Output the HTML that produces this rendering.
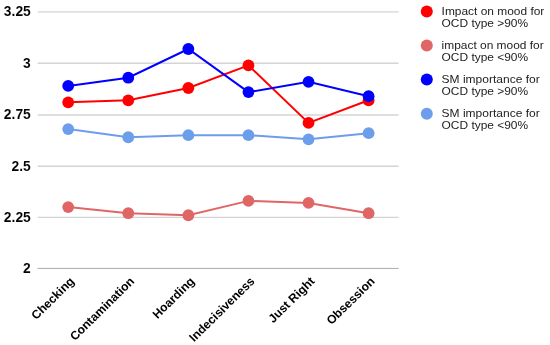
<!DOCTYPE html>
<html><head><meta charset="utf-8"><title>chart</title>
<style>html,body{margin:0;padding:0;background:#fff}svg{display:block}text{font-family:"Liberation Sans",Arial,sans-serif}</style></head><body>
<svg width="550" height="345" viewBox="0 0 550 345">
<rect width="550" height="345" fill="#fff"/>
<line x1="37.7" x2="398.6" y1="11.90" y2="11.90" stroke="#d4d4d4" stroke-width="1.4"/>
<line x1="37.7" x2="398.6" y1="63.20" y2="63.20" stroke="#d4d4d4" stroke-width="1.4"/>
<line x1="37.7" x2="398.6" y1="115.00" y2="115.00" stroke="#d4d4d4" stroke-width="1.4"/>
<line x1="37.7" x2="398.6" y1="166.20" y2="166.20" stroke="#d4d4d4" stroke-width="1.4"/>
<line x1="37.7" x2="398.6" y1="217.40" y2="217.40" stroke="#d4d4d4" stroke-width="1.4"/>
<line x1="37.5" x2="398.6" y1="268.40" y2="268.40" stroke="#aaaaaa" stroke-width="1"/>
<text transform="translate(30.8,16.10) scale(0.975,1)" text-anchor="end" font-size="14.2" font-weight="bold" fill="#000" stroke="#fff" stroke-width="0.08">3.25</text>
<text transform="translate(30.8,68.00) scale(0.975,1)" text-anchor="end" font-size="14.2" font-weight="bold" fill="#000" stroke="#fff" stroke-width="0.08">3</text>
<text transform="translate(30.8,118.60) scale(0.975,1)" text-anchor="end" font-size="14.2" font-weight="bold" fill="#000" stroke="#fff" stroke-width="0.08">2.75</text>
<text transform="translate(30.8,170.50) scale(0.975,1)" text-anchor="end" font-size="14.2" font-weight="bold" fill="#000" stroke="#fff" stroke-width="0.08">2.5</text>
<text transform="translate(30.8,221.75) scale(0.975,1)" text-anchor="end" font-size="14.2" font-weight="bold" fill="#000" stroke="#fff" stroke-width="0.08">2.25</text>
<text transform="translate(30.8,272.75) scale(0.975,1)" text-anchor="end" font-size="14.2" font-weight="bold" fill="#000" stroke="#fff" stroke-width="0.08">2</text>
<polyline points="68.20,102.36 128.28,100.30 188.36,87.99 248.44,65.40 308.52,122.89 368.60,100.30" fill="none" stroke="#ff0000" stroke-width="2"/>
<circle cx="68.20" cy="102.36" r="5.9" fill="#ff0000"/>
<circle cx="128.28" cy="100.30" r="5.9" fill="#ff0000"/>
<circle cx="188.36" cy="87.99" r="5.9" fill="#ff0000"/>
<circle cx="248.44" cy="65.40" r="5.9" fill="#ff0000"/>
<circle cx="308.52" cy="122.89" r="5.9" fill="#ff0000"/>
<circle cx="368.60" cy="100.30" r="5.9" fill="#ff0000"/>
<polyline points="68.20,207.06 128.28,213.22 188.36,215.27 248.44,200.90 308.52,202.95 368.60,213.22" fill="none" stroke="#e06666" stroke-width="2"/>
<circle cx="68.20" cy="207.06" r="5.9" fill="#e06666"/>
<circle cx="128.28" cy="213.22" r="5.9" fill="#e06666"/>
<circle cx="188.36" cy="215.27" r="5.9" fill="#e06666"/>
<circle cx="248.44" cy="200.90" r="5.9" fill="#e06666"/>
<circle cx="308.52" cy="202.95" r="5.9" fill="#e06666"/>
<circle cx="368.60" cy="213.22" r="5.9" fill="#e06666"/>
<polyline points="68.20,85.93 128.28,77.72 188.36,48.98 248.44,92.09 308.52,81.83 368.60,96.20" fill="none" stroke="#0000ff" stroke-width="2"/>
<circle cx="68.20" cy="85.93" r="5.9" fill="#0000ff"/>
<circle cx="128.28" cy="77.72" r="5.9" fill="#0000ff"/>
<circle cx="188.36" cy="48.98" r="5.9" fill="#0000ff"/>
<circle cx="248.44" cy="92.09" r="5.9" fill="#0000ff"/>
<circle cx="308.52" cy="81.83" r="5.9" fill="#0000ff"/>
<circle cx="368.60" cy="96.20" r="5.9" fill="#0000ff"/>
<polyline points="68.20,129.05 128.28,137.26 188.36,135.20 248.44,135.20 308.52,139.31 368.60,133.15" fill="none" stroke="#6d9eeb" stroke-width="2"/>
<circle cx="68.20" cy="129.05" r="5.9" fill="#6d9eeb"/>
<circle cx="128.28" cy="137.26" r="5.9" fill="#6d9eeb"/>
<circle cx="188.36" cy="135.20" r="5.9" fill="#6d9eeb"/>
<circle cx="248.44" cy="135.20" r="5.9" fill="#6d9eeb"/>
<circle cx="308.52" cy="139.31" r="5.9" fill="#6d9eeb"/>
<circle cx="368.60" cy="133.15" r="5.9" fill="#6d9eeb"/>
<text transform="translate(75.00,282.0) scale(1.014,1.0) rotate(-45)" text-anchor="end" font-size="12" font-weight="bold" fill="#000">Checking</text>
<text transform="translate(135.08,282.0) scale(1.014,1.0) rotate(-45)" text-anchor="end" font-size="12" font-weight="bold" fill="#000">Contamination</text>
<text transform="translate(195.16,282.0) scale(1.014,1.0) rotate(-45)" text-anchor="end" font-size="12" font-weight="bold" fill="#000">Hoarding</text>
<text transform="translate(255.24,282.0) scale(1.014,1.0) rotate(-45)" text-anchor="end" font-size="12" font-weight="bold" fill="#000">Indecisiveness</text>
<text transform="translate(315.32,282.0) scale(1.014,1.0) rotate(-45)" text-anchor="end" font-size="12" font-weight="bold" fill="#000">Just Right</text>
<text transform="translate(375.40,282.0) scale(1.014,1.0) rotate(-45)" text-anchor="end" font-size="12" font-weight="bold" fill="#000">Obsession</text>
<circle cx="426.8" cy="11.40" r="6" fill="#ff0000"/>
<text transform="translate(441.6,14.60) scale(1.047,1)" font-size="11.4" fill="#222">Impact on mood for</text>
<text transform="translate(441.6,26.80) scale(1.047,1)" font-size="11.4" fill="#222">OCD type &gt;90%</text>
<circle cx="426.8" cy="45.50" r="6" fill="#e06666"/>
<text transform="translate(441.6,48.70) scale(1.047,1)" font-size="11.4" fill="#222">impact on mood for</text>
<text transform="translate(441.6,60.90) scale(1.047,1)" font-size="11.4" fill="#222">OCD type &lt;90%</text>
<circle cx="426.8" cy="79.60" r="6" fill="#0000ff"/>
<text transform="translate(441.6,82.80) scale(1.054,1)" font-size="11.4" fill="#222">SM importance for</text>
<text transform="translate(441.6,95.00) scale(1.047,1)" font-size="11.4" fill="#222">OCD type &gt;90%</text>
<circle cx="426.8" cy="113.70" r="6" fill="#6d9eeb"/>
<text transform="translate(441.6,116.90) scale(1.054,1)" font-size="11.4" fill="#222">SM importance for</text>
<text transform="translate(441.6,129.10) scale(1.047,1)" font-size="11.4" fill="#222">OCD type &lt;90%</text>
</svg></body></html>
